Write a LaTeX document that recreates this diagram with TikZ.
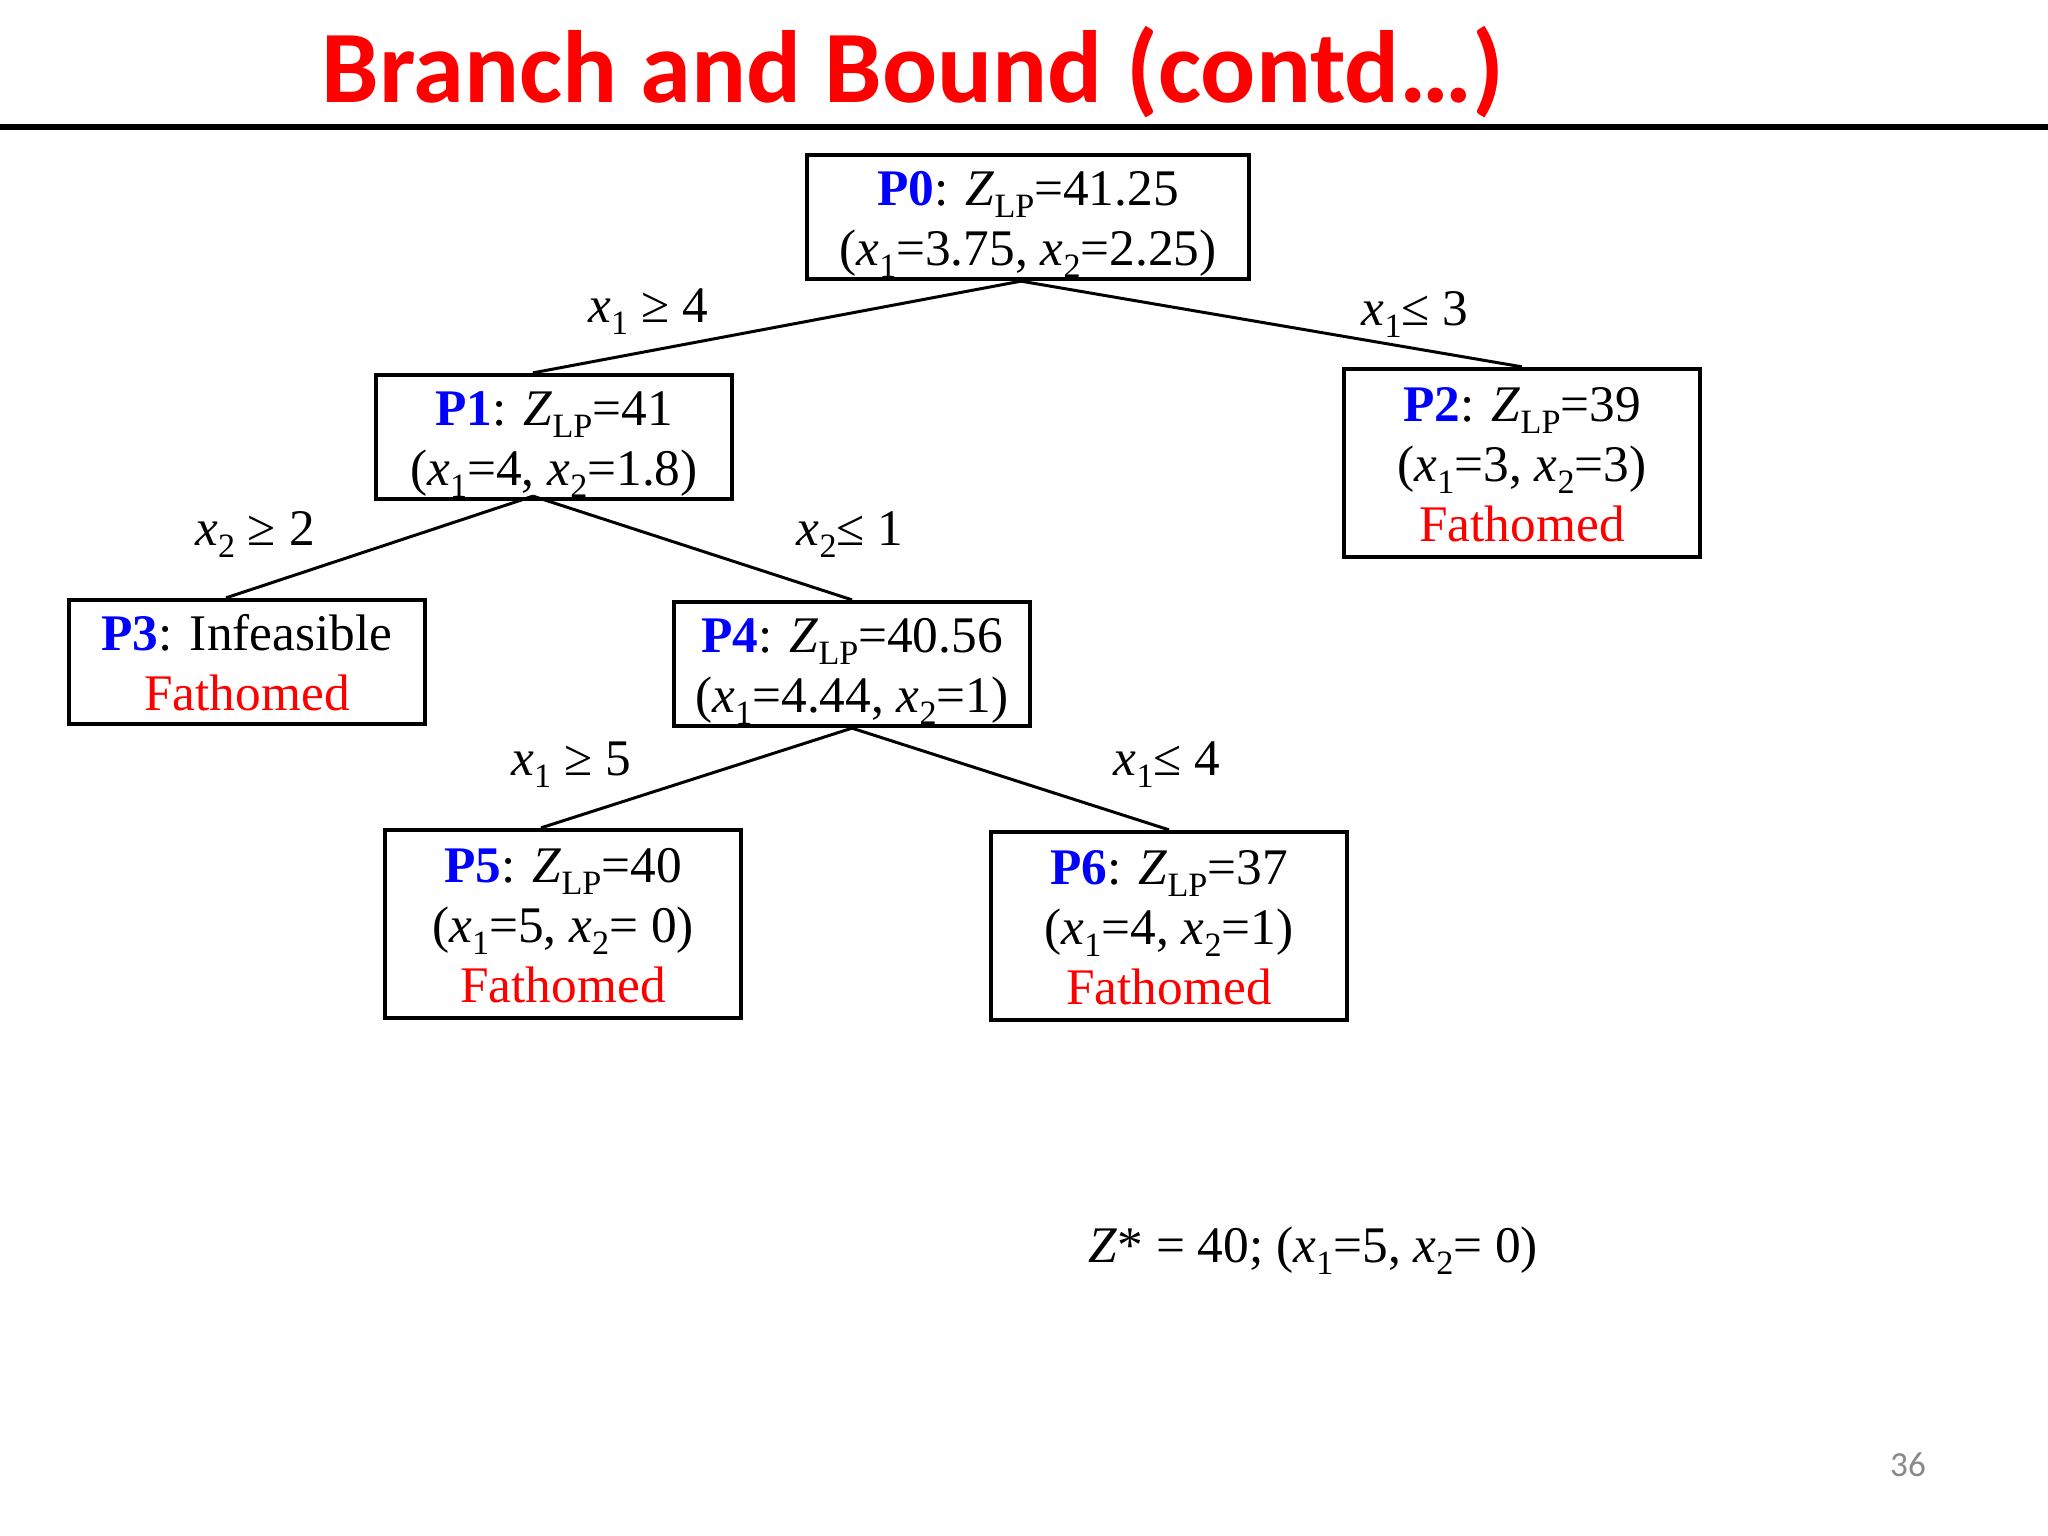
\documentclass[tikz,border=0pt]{standalone}
\usepackage{fontspec}
\setmainfont{Liberation Serif}
\newfontfamily\titlefont{Carlito}
\usepackage{xcolor}
\definecolor{pblue}{RGB}{0,0,255}
\definecolor{fred}{RGB}{255,0,0}
\definecolor{pagegray}{RGB}{137,137,137}
\newcommand{\lowsub}[1]{{\fontsize{9.7}{10}\selectfont\raisebox{-0.36em}{#1}}}
\newcommand{\xv}[1]{\textit{x}\lowsub{#1}}
\newcommand{\zlp}{\textit{Z}\lowsub{LP}}
\newcommand{\pname}[1]{\rule{0pt}{0.5cm}\textcolor{pblue}{\textbf{#1}}}
\newcommand{\fathomed}{\textcolor{fred}{Fathomed}}
\newcommand{\boxfont}{\fontsize{14.6}{17.1}\selectfont}

\begin{document}
\begin{tikzpicture}[x=0.01cm,y=-0.01cm,
    prob node/.style={rectangle,draw,line width=1.2pt,inner sep=0pt,minimum width=3.56cm,minimum height=1.24cm,align=center,font=\boxfont,execute at end node={\rule[-0.13cm]{0pt}{0.13cm}}},
    cut label/.style={font=\boxfont,anchor=base}]
    \useasboundingbox (0,0) rectangle (2048,1536);

    \node[font=\titlefont\bfseries\fontsize{29.2}{34}\selectfont,text=fred,anchor=base] (title) at (913,102) {Branch and Bound (contd\dots)};
    \draw[line width=1.7pt] (0,127) -- (2048,127);

    \node[prob node, minimum width=4.42cm] (P0) at (1028,217) {\pname{P0}: \zlp=41.25\\(\xv{1}=3.75, \xv{2}=2.25)};
    \node[prob node] (P1) at (554,437) {\pname{P1}: \zlp=41\\(\xv{1}=4, \xv{2}=1.8)};
    \node[prob node, minimum height=1.88cm] (P2) at (1522,463) {\pname{P2}: \zlp=39\\(\xv{1}=3, \xv{2}=3)\\\fathomed};
    \node[prob node] (P3) at (247,662) {\pname{P3}: Infeasible\\\fathomed};
    \node[prob node] (P4) at (852,664) {\pname{P4}: \zlp=40.56\\(\xv{1}=4.44, \xv{2}=1)};
    \node[prob node, minimum height=1.88cm] (P5) at (563,924) {\pname{P5}: \zlp=40\\(\xv{1}=5, \xv{2}= 0)\\\fathomed};
    \node[prob node, minimum height=1.88cm] (P6) at (1169,926) {\pname{P6}: \zlp=37\\(\xv{1}=4, \xv{2}=1)\\\fathomed};

    \path[draw,line width=0.85pt]
        ([xshift=-0.07cm]P0.south) edge ([xshift=-0.21cm]P1.north)
        ([xshift=-0.07cm]P0.south) edge (P2.north)
        ([xshift=-0.21cm,yshift=0.05cm]P1.south) edge ([xshift=-0.21cm]P3.north)
        ([xshift=-0.21cm,yshift=0.05cm]P1.south) edge (P4.north)
        (P4.south) edge ([xshift=-0.22cm]P5.north)
        (P4.south) edge (P6.north)
        ;

    \node[cut label] (c01) at (648,322) {\xv{1} ≥ 4};
    \node[cut label] (c02) at (1415,325) {\xv{1}≤ 3};
    \node[cut label] (c13) at (255,545) {\xv{2} ≥ 2};
    \node[cut label] (c14) at (850,545) {\xv{2}≤ 1};
    \node[cut label] (c45) at (571,775) {\xv{1} ≥ 5};
    \node[cut label] (c46) at (1167,775) {\xv{1}≤ 4};

    \node[font=\boxfont,anchor=base west,inner sep=0pt] (opt) at (1088,1262) {\textit{Z}* = 40; (\xv{1}=5, \xv{2}= 0)};
    \node[font=\titlefont\fontsize{10}{12}\selectfont,text=pagegray,anchor=base] (page) at (1908,1476) {36};
\end{tikzpicture}
\end{document}
